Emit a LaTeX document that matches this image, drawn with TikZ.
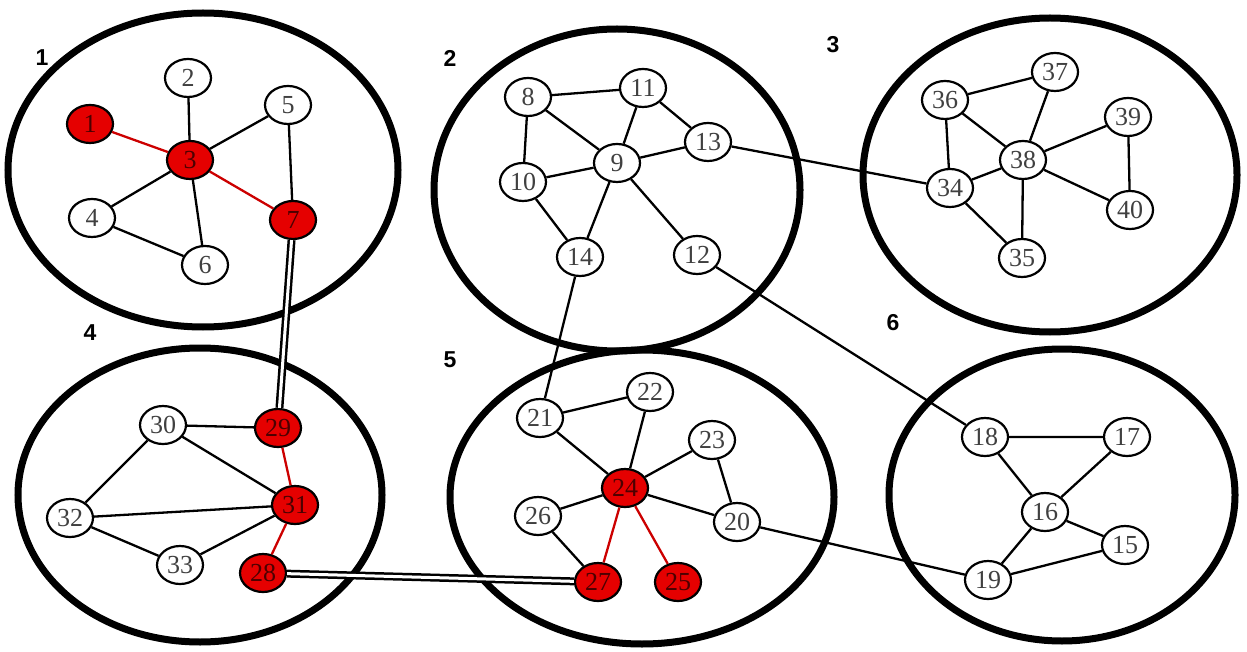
\documentclass[tikz,border=0pt]{standalone}
\usepackage{fontspec}
\setmainfont{Liberation Serif}
\newfontfamily\labfont{Liberation Sans}
\usetikzlibrary{shapes.geometric}
\begin{document}
\begin{tikzpicture}[x=1pt,y=-1pt,
 vtx/.style={ellipse,draw,line width=2.2pt,fill=white,minimum width=46pt,minimum height=38pt,inner sep=0pt,font=\fontsize{26}{26}\selectfont,text=black!75},
 hot/.style={vtx,fill=red!90!black,text=black!70!red},
 grp/.style={draw,line width=7pt},
 lab/.style={font=\labfont\bfseries\fontsize{23}{23}\selectfont},
 ed/.style={line width=2.3pt},
 red/.style={line width=2.3pt,draw=red!80!black},
 dbl/.style={double,double distance=3pt,line width=2.5pt}]
\useasboundingbox (0,0) rectangle (1247,652);
\draw[grp] (203,170) ellipse (195 and 157);
\draw[grp] (617,190) ellipse (183 and 161);
\draw[grp] (1050,175) ellipse (187 and 157);
\draw[grp] (200,495) ellipse (182 and 147);
\draw[grp] (642,497) ellipse (192 and 147);
\draw[grp] (1062,495) ellipse (173 and 146);
\node[lab] (l1) at (42,58) {1};
\node[lab] (l2) at (450,58) {2};
\node[lab] (l3) at (833,45) {3};
\node[lab] (l4) at (90,333) {4};
\node[lab] (l5) at (450,360) {5};
\node[lab] (l6) at (893,323) {6};
% cluster 1
\node[hot] (n1) at (90,124) {1};
\node[vtx] (n2) at (188,78) {2};
\node[hot] (n3) at (190,160) {3};
\node[vtx] (n4) at (92,218) {4};
\node[vtx] (n5) at (288,105) {5};
\node[vtx] (n6) at (205,265) {6};
\node[hot] (n7) at (293,220) {7};
% cluster 2
\node[vtx] (n8) at (528,97) {8};
\node[vtx] (n11) at (643,88) {11};
\node[vtx] (n13) at (708,142) {13};
\node[vtx] (n9) at (617,163) {9};
\node[vtx] (n10) at (523,182) {10};
\node[vtx] (n14) at (580,257) {14};
\node[vtx] (n12) at (697,255) {12};
% cluster 3
\node[vtx] (n36) at (945,100) {36};
\node[vtx] (n37) at (1055,72) {37};
\node[vtx] (n39) at (1128,117) {39};
\node[vtx] (n38) at (1023,160) {38};
\node[vtx] (n34) at (950,188) {34};
\node[vtx] (n40) at (1130,210) {40};
\node[vtx] (n35) at (1022,258) {35};
% cluster 4
\node[vtx] (n30) at (163,425) {30};
\node[hot] (n29) at (278,428) {29};
\node[vtx] (n32) at (70,518) {32};
\node[hot] (n31) at (295,505) {31};
\node[vtx] (n33) at (180,565) {33};
\node[hot] (n28) at (263,573) {28};
% cluster 5
\node[vtx] (n21) at (540,418) {21};
\node[vtx] (n22) at (650,392) {22};
\node[vtx] (n23) at (712,440) {23};
\node[hot] (n24) at (625,488) {24};
\node[vtx] (n26) at (538,516) {26};
\node[vtx] (n20) at (737,522) {20};
\node[hot] (n27) at (598,582) {27};
\node[hot] (n25) at (678,582) {25};
% cluster 6
\node[vtx] (n18) at (985,437) {18};
\node[vtx] (n17) at (1127,437) {17};
\node[vtx] (n16) at (1045,512) {16};
\node[vtx] (n15) at (1125,545) {15};
\node[vtx] (n19) at (988,580) {19};
% edges
\draw[red] (n1)--(n3) (n3)--(n7) (n29)--(n31) (n31)--(n28) (n24)--(n27) (n24)--(n25);
\draw[ed] (n2)--(n3) (n3)--(n5) (n5)--(n7) (n3)--(n4) (n3)--(n6) (n4)--(n6);
\draw[ed] (n8)--(n11) (n8)--(n10) (n8)--(n9) (n11)--(n9) (n11)--(n13) (n9)--(n13) (n10)--(n9) (n10)--(n14) (n9)--(n14) (n9)--(n12);
\draw[ed] (n13)--(n34) (n12)--(n18) (n14)--(n21) (n20)--(n19);
\draw[ed] (n36)--(n37) (n36)--(n38) (n36)--(n34) (n37)--(n38) (n38)--(n39) (n38)--(n40) (n39)--(n40) (n38)--(n34) (n34)--(n35) (n38)--(n35);
\draw[ed] (n30)--(n29) (n30)--(n32) (n30)--(n31) (n32)--(n31) (n32)--(n33) (n33)--(n31);
\draw[ed] (n21)--(n22) (n21)--(n24) (n22)--(n24) (n24)--(n23) (n23)--(n20) (n24)--(n20) (n24)--(n26) (n26)--(n27);
\draw[ed] (n18)--(n17) (n18)--(n16) (n17)--(n16) (n16)--(n19) (n16)--(n15) (n19)--(n15);
\draw[dbl] (n7)--(n29);
\draw[dbl] (n28)--(n27);
\end{tikzpicture}
\end{document}
